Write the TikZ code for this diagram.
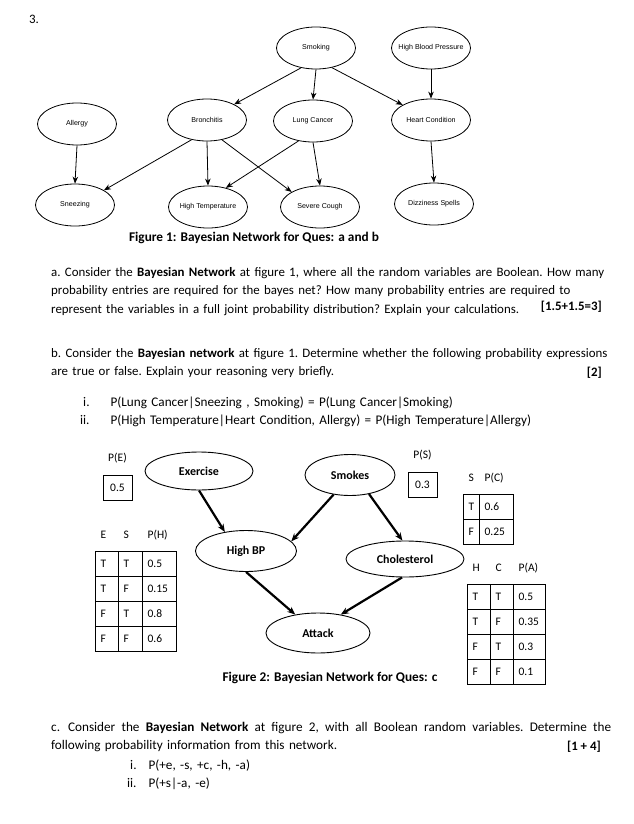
\documentclass[tikz,border=0pt]{standalone}
\usepackage{fontspec}
\setmainfont{Carlito}
\newfontfamily\netfont{Liberation Sans}
\usetikzlibrary{arrows.meta, positioning, shapes.geometric, matrix}

\newcommand{\bodysize}{\fontsize{12.9}{18.5}\selectfont\frenchspacing}
\newcommand{\listsize}{\fontsize{13.2}{18.5}\selectfont\frenchspacing}
\newcommand{\cellsize}{\fontsize{11.5}{13}\selectfont}

\tikzset{
  var/.style={draw, ellipse, line width=0.8pt, minimum width=79pt, minimum height=42pt,
    inner xsep=-8pt, inner ysep=0pt, font=\netfont\fontsize{7.1}{8}\selectfont},
  link/.style={-{Stealth[length=7pt,width=5.5pt]}, line width=0.8pt},
  bnode/.style={draw, ellipse, line width=0.9pt, inner sep=0pt, font=\bfseries\fontsize{12}{13}\selectfont},
  blink/.style={-{Stealth[length=8pt,width=6.5pt]}, line width=2.2pt},
  para/.style={anchor=base west, inner sep=0pt, align=left, text width=580pt, font=\bodysize},
  marks/.style={anchor=base east, inner sep=0pt, font=\bodysize\bfseries},
  caption/.style={font=\fontsize{13.3}{15}\selectfont\bfseries},
  probbox/.style={draw, line width=0.8pt, minimum width=29pt, minimum height=25pt, inner sep=0pt, font=\cellsize},
  cpt/.style={matrix of nodes, anchor=north west, inner sep=0pt, column sep=-0.8pt, row sep=-0.8pt,
    nodes={draw, line width=0.8pt, minimum height=25pt, inner xsep=5pt, inner ysep=0pt,
      text height=8.5pt, text depth=2.5pt, align=left, font=\cellsize},
    row 1/.style={nodes={draw=none, minimum height=34pt}}},
}

\begin{document}
\begin{tikzpicture}[x=1pt, y=-1pt]
\useasboundingbox (0,0) rectangle (633,824);
\node[anchor=base west, inner sep=0pt, font=\bodysize] (qnum) at (29,24) {3.};

% figure 1
\node[var] (smoking) at (316,48) {Smoking};
\node[var] (hbp) at (431,48) {High Blood Pressure};
\node[var] (allergy) at (77,124) {Allergy};
\node[var] (bronchitis) at (207,120) {Bronchitis};
\node[var] (lungcancer) at (313,121) {Lung Cancer};
\node[var] (heartcond) at (431,120) {Heart Condition};
\node[var] (sneezing) at (75,205) {Sneezing};
\node[var] (hightemp) at (208,207) {High Temperature};
\node[var] (severecough) at (320,207) {Severe Cough};
\node[var] (dizziness) at (434,204) {Dizziness Spells};

\draw[link] (smoking.233) -- (bronchitis.30);
\draw[link] (smoking.south) -- (lungcancer.north);
\draw[link] (smoking.309) -- (heartcond.152);
\draw[link] (hbp.south) -- (heartcond.north);
\draw[link] (allergy.south) -- (sneezing.north);
\draw[link] (bronchitis.232) -- (sneezing.27);
\draw[link] (bronchitis.south) -- (hightemp.north);
\draw[link] (bronchitis.307) -- (severecough.152);
\draw[link] (lungcancer.234) -- (hightemp.47);
\draw[link] (lungcancer.south) -- (severecough.north);
\draw[link] (heartcond.south) -- (dizziness.north);

\node[caption] (caption1) at (254,238) {Figure 1: Bayesian Network for Ques: a and b};

% questions a and b
\node[para] (parta) at (51,276) {a. Consider the \textbf{Bayesian Network} at figure 1, where all the random variables are Boolean. How many\\
probability entries are required for the bayes net? How many probability entries are required to\\
represent the variables in a full joint probability distribution? Explain your calculations.};
\node[marks] (marka) at (602,310) {[1.5+1.5=3]};

\node[para] (partb) at (51,357) {b. Consider the \textbf{Bayesian network} at figure 1. Determine whether the following probability expressions\\
are true or false. Explain your reasoning very briefly.};
\node[marks] (markb) at (602,376) {[2]};

\node[para, font=\listsize] (listb) at (80,406) {\begin{tabular}[t]{@{}r@{\hspace{21pt}}l@{}}
i. & P(Lung Cancer|Sneezing , Smoking) = P(Lung Cancer|Smoking)\\
ii. & P(High Temperature|Heart Condition, Allergy) = P(High Temperature|Allergy)
\end{tabular}};

% figure 2
\node[bnode, minimum width=108pt, minimum height=38pt] (exercise) at (199,471) {Exercise};
\node[bnode, minimum width=90pt, minimum height=41pt] (smokes) at (350,475) {Smokes};
\node[bnode, minimum width=101pt, minimum height=41pt] (highbp) at (246,551) {High BP};
\node[bnode, minimum width=118pt, minimum height=36pt] (cholesterol) at (405,559) {Cholesterol};
\node[bnode, minimum width=104pt, minimum height=40pt] (attack) at (318,633) {Attack};

\draw[blink] (exercise.south) -- (highbp.138);
\draw[blink] (smokes.230) -- (highbp.12);
\draw[blink] (smokes.315) -- (cholesterol.98);
\draw[blink] (highbp.south) -- (attack.141);
\draw[blink] (cholesterol.261) -- (attack.39);

\node[probbox] (pebox) at (117.5,488) {0.5};
\node[font=\cellsize, above=8pt of pebox] (pehead) {P(E)};
\node[probbox] (psbox) at (422.5,484.5) {0.3};
\node[font=\cellsize, above=8pt of psbox] (pshead) {P(S)};

\matrix[cpt, column 1/.style={nodes={text width=13pt}}, column 2/.style={nodes={text width=14pt}},
  column 3/.style={nodes={text width=24pt}}] (tabh) at (95,518) {
  E & S & P(H)\\
  T & T & 0.5\\
  T & F & 0.15\\
  F & T & 0.8\\
  F & F & 0.6\\
};
\matrix[cpt, column 1/.style={nodes={text width=6pt}}, column 2/.style={nodes={text width=24pt}}] (tabc) at (463,461) {
  S & P(C)\\
  T & 0.6\\
  F & 0.25\\
};
\matrix[cpt, column 1/.style={nodes={text width=13pt}}, column 2/.style={nodes={text width=13pt}},
  column 3/.style={nodes={text width=22pt}}] (taba) at (467,551) {
  H & C & P(A)\\
  T & T & 0.5\\
  T & F & 0.35\\
  F & T & 0.3\\
  F & F & 0.1\\
};

\node[caption] (caption2) at (330,678) {Figure 2: Bayesian Network for Ques: c};

% question c
\node[para, font=\listsize] (partc) at (51,731) {\hbox to 560pt{\spaceskip=0.226em plus 1fil\relax
c.\hspace{8pt}Consider the \textbf{Bayesian Network} at figure 2, with all Boolean random variables. Determine the}\\
following probability information from this network.};
\node[marks] (markc) at (601,750) {[1 + 4]};

\node[para, font=\listsize] (listc) at (127,769) {\begin{tabular}[t]{@{}r@{\hspace{12pt}}l@{}}
i. & P(+e, -s, +c, -h, -a)\\
ii. & P(+s|-a, -e)
\end{tabular}};
\end{tikzpicture}
\end{document}
